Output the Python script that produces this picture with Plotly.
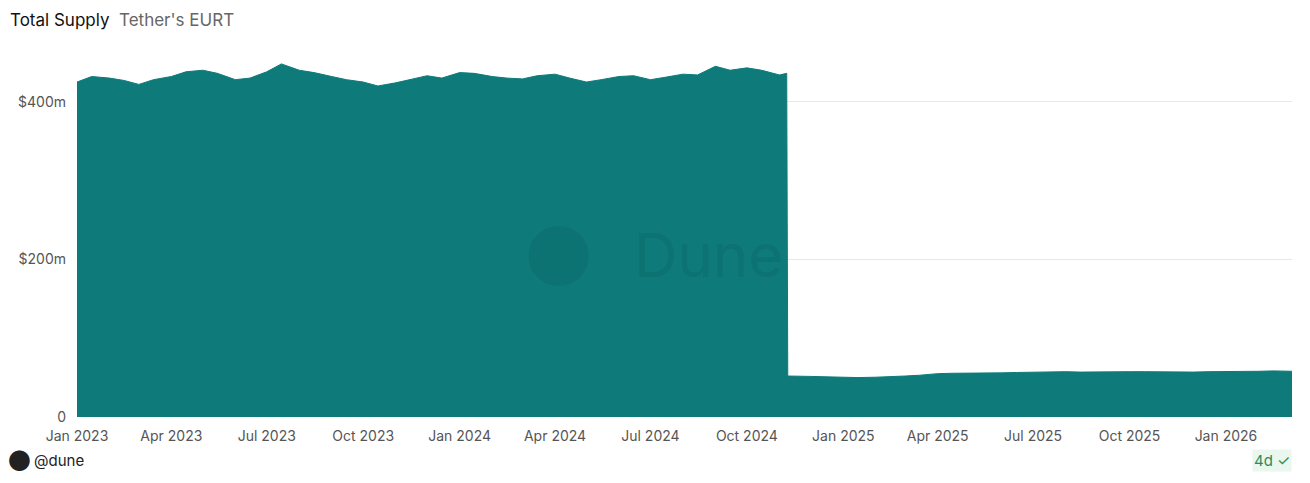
import plotly.graph_objects as go

# semi-monthly readings of EURT total supply (millions USD)
dates_high = [
    "2023-01-01", "2023-01-15", "2023-02-01", "2023-02-15", "2023-03-01", "2023-03-15",
    "2023-04-01", "2023-04-15", "2023-05-01", "2023-05-15", "2023-06-01", "2023-06-15",
    "2023-07-01", "2023-07-15", "2023-08-01", "2023-08-15", "2023-09-01", "2023-09-15",
    "2023-10-01", "2023-10-15", "2023-11-01", "2023-11-15", "2023-12-01", "2023-12-15",
    "2024-01-01", "2024-01-15", "2024-02-01", "2024-02-15", "2024-03-01", "2024-03-15",
    "2024-04-01", "2024-04-15", "2024-05-01", "2024-05-15", "2024-06-01", "2024-06-15",
    "2024-07-01", "2024-07-15", "2024-08-01", "2024-08-15", "2024-09-01", "2024-09-15",
    "2024-10-01", "2024-10-15", "2024-11-01", "2024-11-08",
]
supply_high = [
    425, 432, 430, 427, 422, 428, 432, 438, 440, 436, 428, 430,
    438, 448, 440, 437, 432, 428, 425, 420, 424, 428, 433, 430,
    437, 436, 432, 430, 429, 433, 435, 430, 425, 428, 432, 433,
    428, 431, 435, 434, 445, 440, 443, 440, 434, 436,
]
dates_low = [
    "2024-11-09", "2024-12-01", "2024-12-15", "2025-01-01", "2025-01-15", "2025-02-01",
    "2025-02-15", "2025-03-01", "2025-03-15", "2025-04-01", "2025-04-15", "2025-05-01",
    "2025-05-15", "2025-06-01", "2025-06-15", "2025-07-01", "2025-07-15", "2025-08-01",
    "2025-08-15", "2025-09-01", "2025-09-15", "2025-10-01", "2025-10-15", "2025-11-01",
    "2025-11-15", "2025-12-01", "2025-12-15", "2026-01-01", "2026-01-15", "2026-02-01",
    "2026-02-15", "2026-03-05",
]
supply_low = [
    52, 51.5, 51, 50.5, 50, 50.5, 51, 52, 53, 55, 55.5, 55.5,
    56, 56, 56.5, 57, 57.5, 57.5, 57, 57.5, 57.5, 57.5, 57.5, 57,
    57, 57, 57.5, 57.5, 58, 58, 58.5, 58,
]

dates = dates_high + dates_low
supply = [v * 1e6 for v in supply_high + supply_low]

fig = go.Figure(go.Scatter(
    x=dates, y=supply, mode="lines", fill="tozeroy",
    line=dict(color="#0f7a7a", width=1), fillcolor="#0f7a7a",
))

# page adds ~8px body margin, so margins are shifted to compensate
fig.update_layout(
    width=1310, height=483,
    paper_bgcolor="white", plot_bgcolor="white",
    margin=dict(l=69, r=26, t=37, b=74),
    font=dict(family="Inter, Open Sans, sans-serif", color="#555", size=14),
    showlegend=False,
    xaxis=dict(
        range=["2023-01-01", "2026-03-05"], showgrid=False, ticks="",
        dtick="M3", tickformat="%b %Y", showline=False, automargin=False,
        ticklabelstandoff=9,
    ),
    yaxis=dict(
        range=[0, 472e6], tickvals=[0, 200e6, 400e6], ticktext=["0", "$200m", "$400m"],
        gridcolor="#e8e8e8", zeroline=False, ticks="", automargin=False,
        ticklabelstandoff=10,
    ),
    annotations=[
        dict(x=-0.057, y=1.067, xref="paper", yref="paper", xanchor="left", yanchor="middle",
             text="<span style='color:#111'>Total Supply</span>  <span style='color:#666'>Tether's EURT</span>",
             showarrow=False, font=dict(size=17)),
        dict(x=0.396, y=0.435, xref="paper", yref="paper", text="●", showarrow=False,
             font=dict(size=80, color="rgba(0,60,60,0.12)")),
        dict(x=0.52, y=0.435, xref="paper", yref="paper", text="Dune", showarrow=False,
             font=dict(size=60, color="rgba(0,60,60,0.12)")),
        dict(x=-0.058, y=-0.118, xref="paper", yref="paper", xanchor="left", yanchor="middle",
             text="⬤ @dune", showarrow=False, font=dict(size=15, color="#222")),
        dict(x=1.0, y=-0.118, xref="paper", yref="paper", xanchor="right", yanchor="middle",
             text="4d ✓", showarrow=False, font=dict(size=15, color="#2e8b57"),
             bgcolor="#e9f7ee"),
    ],
)

fig.write_html("out.html")
